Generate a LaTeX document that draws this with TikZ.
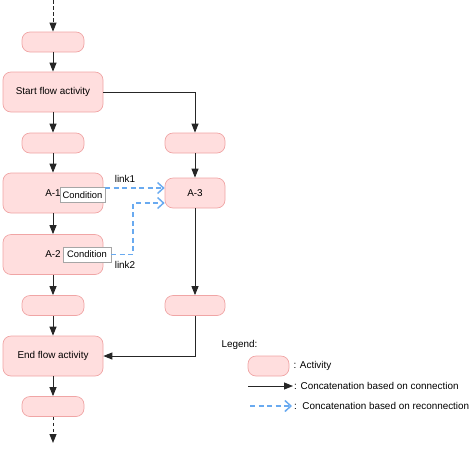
\documentclass[tikz,border=0pt]{standalone}
\usepackage{fontspec}
\setmainfont{Liberation Sans}
\usetikzlibrary{arrows.meta}

\definecolor{actfill}{RGB}{255,222,222}
\definecolor{actline}{RGB}{240,165,165}
\definecolor{relink}{RGB}{105,170,240}

\tikzset{
    act/.style={draw=actline, fill=actfill, rounded corners=8pt, line width=0.7pt,
                minimum width=100pt, minimum height=40pt, inner sep=0pt},
    small act/.style={act, minimum width=62pt, minimum height=20pt},
    cond/.style={draw=black!35, fill=white, minimum width=45pt, minimum height=15pt, inner sep=0.5pt,
                 font=\fontsize{9.4}{11}\selectfont},
    conn/.style={draw=black!85, line width=1pt, -{Triangle[length=9pt,width=7pt]}},
    reconn/.style={draw=relink, line width=1.5pt, dash pattern=on 5pt off 3.5pt,
                   -{Straight Barb[length=6pt,width=11pt]}},
}

\begin{document}
\begin{tikzpicture}[x=1pt, y=-1pt, font=\fontsize{9.9}{11}\selectfont]
    \useasboundingbox (0,0) rectangle (474,448);
    %
    % left column
    \node [small act] (act1)  at (53,42)    {};
    \node [act]       (start) at (53,92)    {Start flow activity};
    \node [small act] (act2)  at (53,143)   {};
    \node [act]       (a1)    at (53,193)   {A-1};
    \node [act]       (a2)    at (53,254.5) {A-2};
    \node [small act] (act3)  at (53,305.5) {};
    \node [act]       (end)   at (53,356)   {End flow activity};
    \node [small act] (act4)  at (53,406.5) {};
    % right column
    \node [small act, minimum width=60pt] (ract1) at (195,143) {};
    \node [act, minimum width=60pt, minimum height=30pt] (a3) at (195,193) {A-3};
    \node [small act, minimum width=60pt] (ract2) at (195,305.5) {};
    %
    \node [cond] (c1) at (82.5,195) {Condition};
    \node [cond, minimum width=48pt] (c2) at (87,254.5) {Condition};
    \node (lk1) at (125,179) {link1};
    \node (lk2) at (125,265) {link2};
    %
    \coordinate (top) at (53,0);
    \coordinate (bot) at (53,443);
    \coordinate (a3in1) at ([yshift=5pt]a3.west);
    \coordinate (a3in2) at ([yshift=-10pt]a3.west);
    %
    \draw [conn, dash pattern=on 3.5pt off 2.5pt] (top) -- (act1.north);
    \draw [conn] (act1) -- (start);
    \draw [conn] (start) -- (act2);
    \draw [conn] (act2) -- (a1);
    \draw [conn] (a1) -- (a2);
    \draw [conn] (a2) -- (act3);
    \draw [conn] (act3) -- (end);
    \draw [conn] (end) -- (act4);
    \draw [conn, dash pattern=on 3.5pt off 2.5pt] (act4.south) -- (bot);
    \draw [conn] (start.east) -| (ract1.north);
    \draw [conn] (ract1) -- (a3);
    \draw [conn] (a3) -- (ract2);
    \draw [conn] (ract2.south) |- (end.east);
    \draw [reconn] (c1.east |- a3in1) -- (a3in1);
    \draw [reconn] (c2.east) -- ++(22,0) |- (a3in2);
    %
    % legend
    \node [anchor=west] (lgd) at (218,345) {Legend:};
    \node [small act, minimum width=41pt] (lgbox) at (268.5,366) {};
    \node [anchor=west, inner sep=4pt] (lgact) at (lgbox.east) {: Activity};
    \coordinate (lgc1) at (248,386);
    \coordinate (lgc2) at (293,386);
    \node [anchor=west, inner sep=1pt] (lgconn) at (lgc2) {: Concatenation based on connection};
    \coordinate (lgr1) at (250,406);
    \coordinate (lgr2) at (292,406);
    \node [anchor=west, inner sep=2pt] (lgreconn) at (lgr2) {:\ \ Concatenation based on reconnection};
    \draw [conn] (lgc1) -- (lgc2);
    \draw [reconn] (lgr1) -- (lgr2);
\end{tikzpicture}
\end{document}
